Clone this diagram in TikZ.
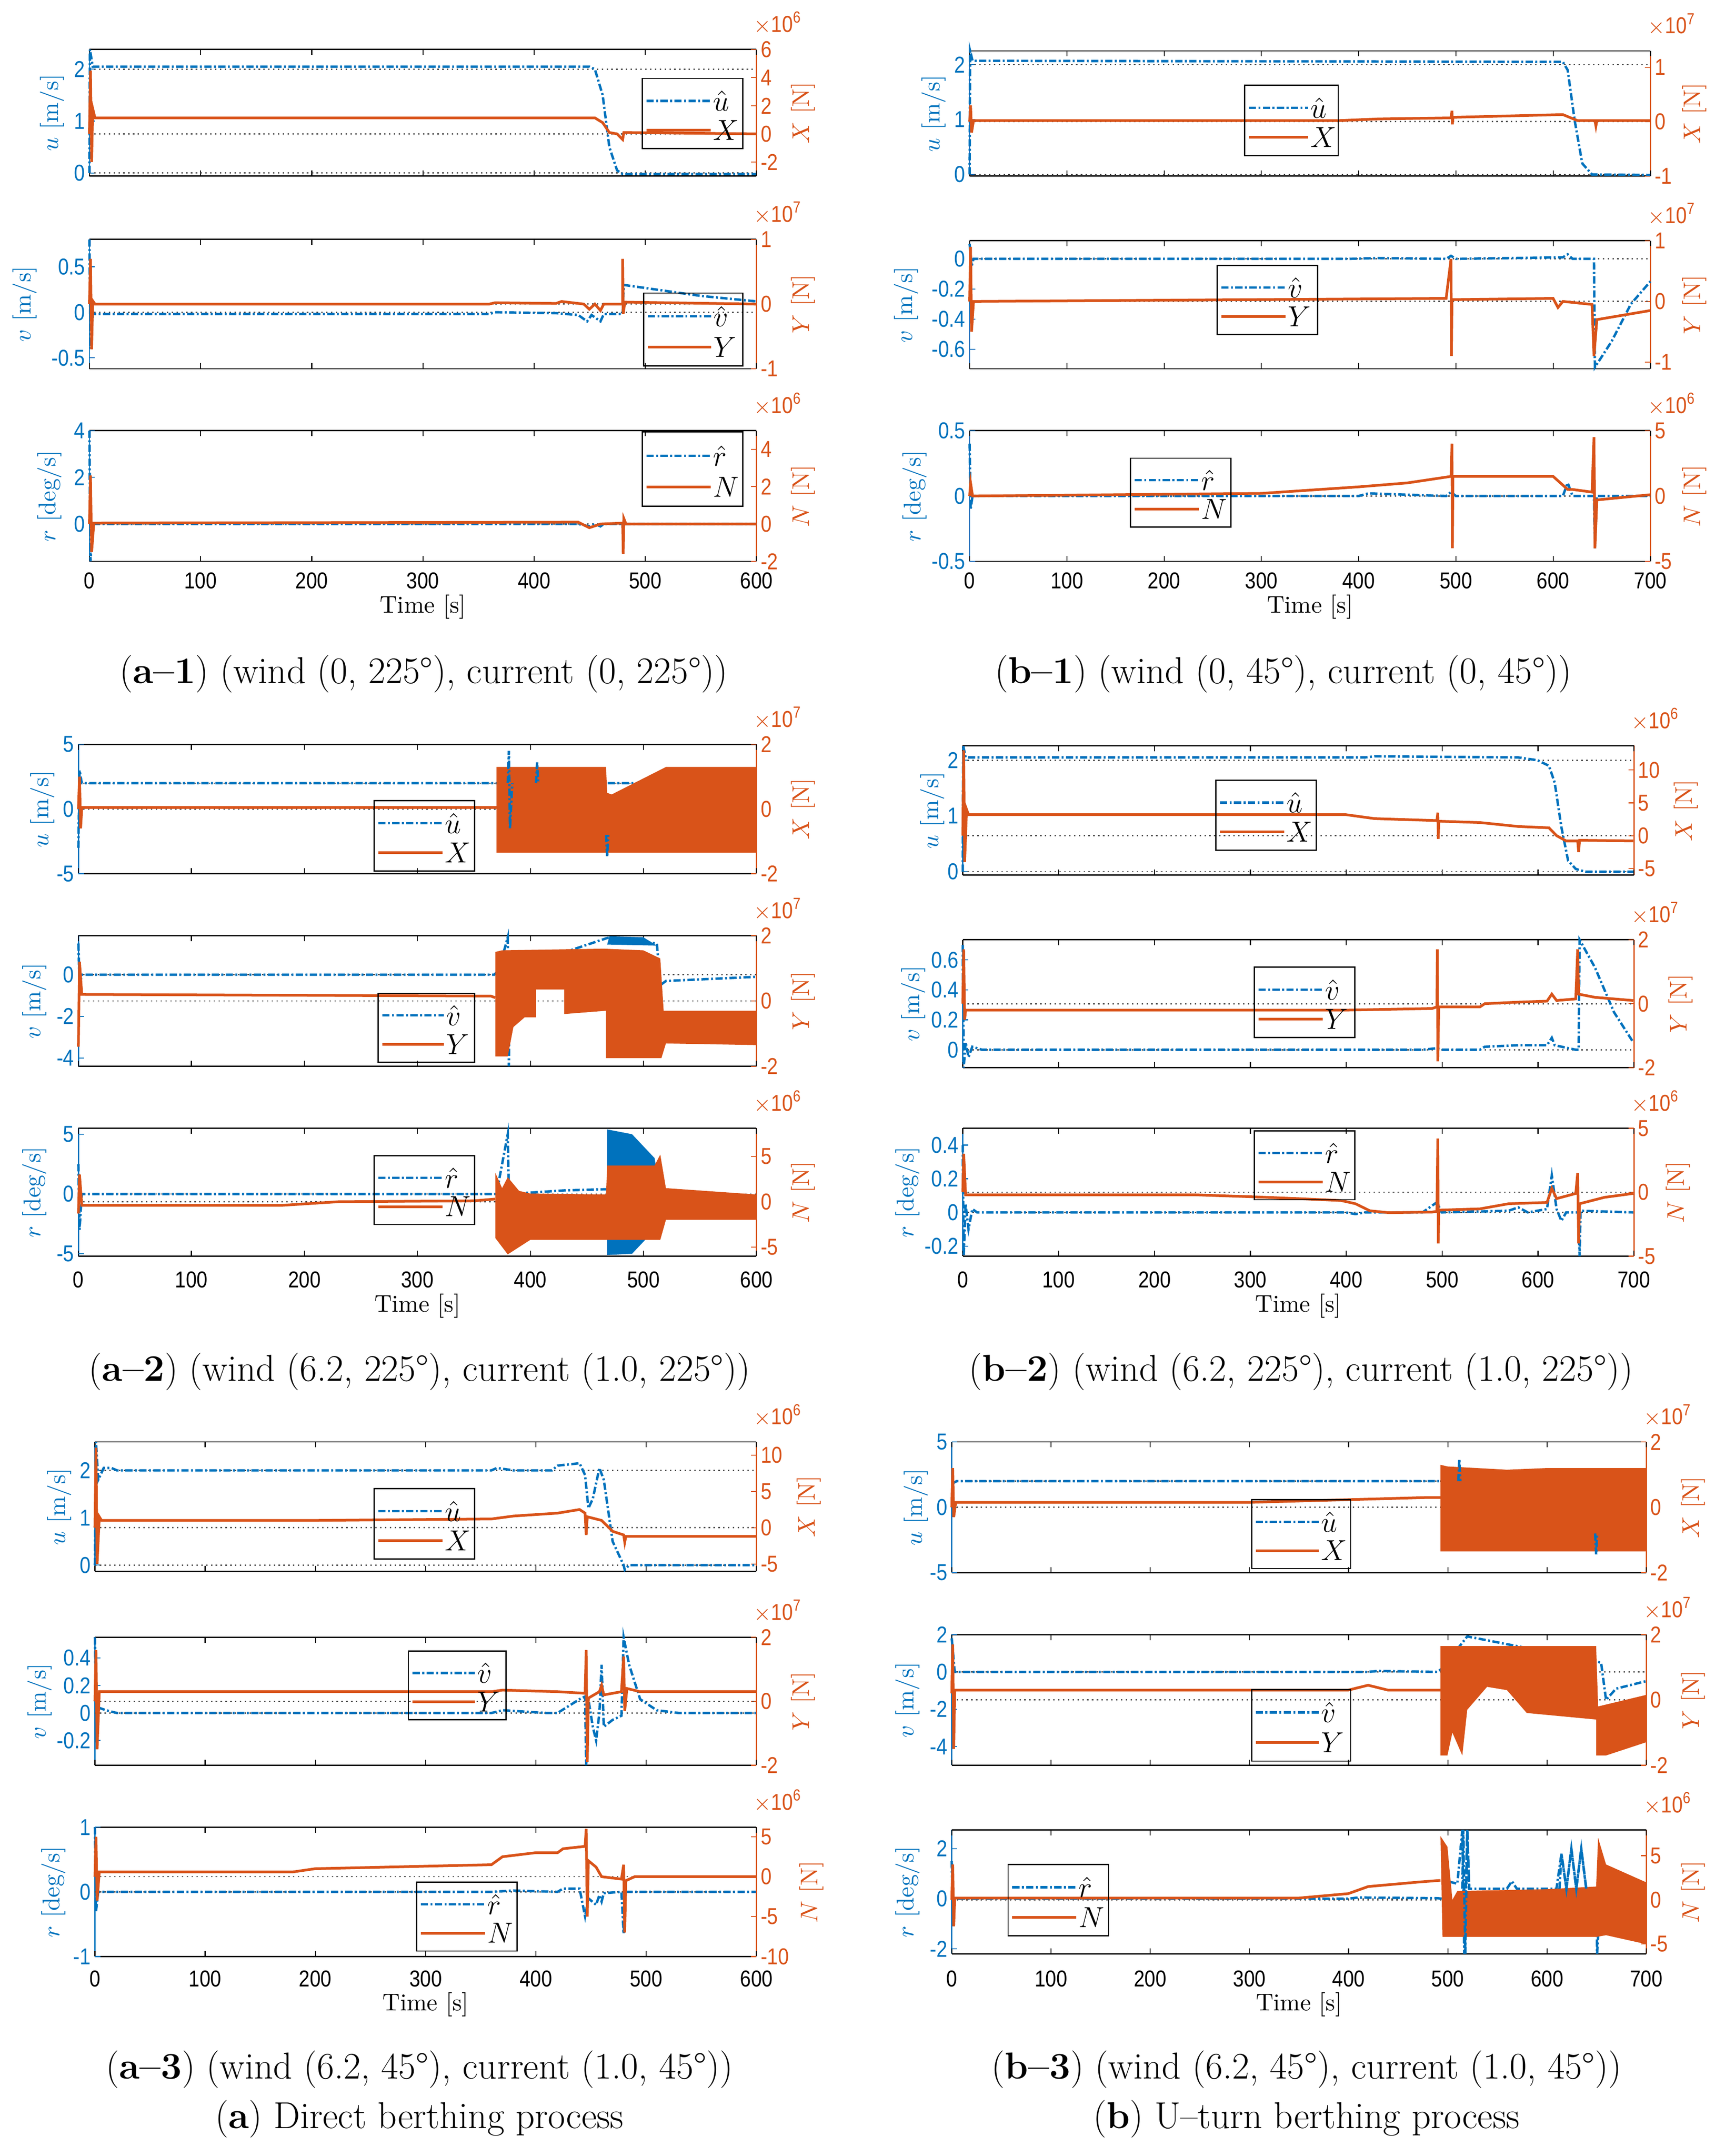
\documentclass[tikz,border=0pt]{standalone}
\usepackage{fontspec}
\newfontfamily\tickfont[FakeStretch=0.85]{Liberation Sans}
\definecolor{cB}{HTML}{0072BD}
\definecolor{cO}{HTML}{D95319}
\tikzset{
 bl/.style={cB,line width=1pt,dash pattern=on 3pt off 1pt on 0.8pt off 1pt},
 orl/.style={cO,line width=1.1pt},
 gref/.style={black!70,line width=0.5pt,dash pattern=on 0.6pt off 1.4pt},
 tick/.style={font=\tickfont\fontsize{9.5}{10}\selectfont,inner sep=1pt},
 lab/.style={font=\fontsize{10}{12}\selectfont,inner sep=0pt},
 captxt/.style={font=\fontsize{15.5}{18}\selectfont,inner sep=0pt},
 L/.style={shift={(\pX,\pYb)},x=\tS cm,y=\lS cm,yshift=\lO cm},
 R/.style={shift={(\pX,\pYb)},x=\tS cm,y=\rS cm,yshift=\rO cm}
}
\newcommand\panel[9]{%
 \pgfmathsetmacro\pX{#1}\pgfmathsetmacro\pY{#2}\pgfmathsetmacro\pXb{#3}\pgfmathsetmacro\pYb{#4}%
 \pgfmathsetmacro\tS{0.02*(#3-#1)/#5}%
 \pgfmathsetmacro\lS{0.02*(#4-#2)/((#7)-(#6))}%
 \pgfmathsetmacro\lO{-(#6)*\lS}%
 \pgfmathsetmacro\rS{0.02*(#4-#2)/((#9)-(#8))}%
 \pgfmathsetmacro\rO{-(#8)*\rS}%
 \def\tmax{#5}\def\lmin{#6}\def\lmax{#7}\def\rmin{#8}\def\rmax{#9}%
 \draw[black,line width=0.5pt] (\pX,\pY) -- (\pXb,\pY) (\pX,\pYb) -- (\pXb,\pYb);
 \draw[cB,line width=0.5pt] (\pX,\pY) -- (\pX,\pYb);
 \draw[cO,line width=0.5pt] (\pXb,\pY) -- (\pXb,\pYb);
 \foreach \tk in {0,100,...,\tmax}{\pgfmathsetmacro\xx{\pX+\tk/\tmax*(\pXb-\pX)}
   \draw[black,line width=0.4pt] (\xx,\pY) -- ++(0,4) (\xx,\pYb) -- ++(0,-4);}
}
\newcommand\lt[1]{\foreach \vv in {#1}{\pgfmathsetmacro\yy{\pYb-((\vv)-(\lmin))/((\lmax)-(\lmin))*(\pYb-\pY)}
 \draw[cB,line width=0.4pt] (\pX,\yy) -- ++(4,0); \node[tick,cB,anchor=east] at (\pX-1,\yy) {\vv};}}
\newcommand\rt[1]{\foreach \vv in {#1}{\pgfmathsetmacro\yy{\pYb-((\vv)-(\rmin))/((\rmax)-(\rmin))*(\pYb-\pY)}
 \draw[cO,line width=0.4pt] (\pXb,\yy) -- ++(-4,0); \node[tick,cO,anchor=west] at (\pXb+1,\yy) {\vv};}}
\newcommand\labs[5]{%
 \node[lab,cB,rotate=90] at ({\pX-#4},{(\pY+\pYb)/2}) {#1};
 \node[lab,cO,rotate=90] at ({\pXb+#5},{(\pY+\pYb)/2}) {#2};
 \node[tick,cO,anchor=south west] at ({\pXb-4},{\pY-9}) {$\times$10\textsuperscript{#3}};}
\newcommand\gl[1]{\draw[gref,L] (0,#1) -- (\tmax,#1);}
\newcommand\gr[1]{\draw[gref,R] (0,#1) -- (\tmax,#1);}
\newcommand\xlab[1]{\foreach \tk in {0,100,...,\tmax}{\pgfmathsetmacro\xx{\pX+\tk/\tmax*(\pXb-\pX)}
 \node[tick,black] at (\xx,#1) {\tk};}
 \node[lab] at ({(\pX+\pXb)/2},{#1+19}) {Time [s]};}
\newcommand\leg[6]{%
 \draw[black,line width=0.5pt] (#1,#2) rectangle (#3,#4);
 \pgfmathsetmacro\la{#2+(#4-#2)*0.32}\pgfmathsetmacro\lb{#2+(#4-#2)*0.74}%
 \draw[bl] ({#1+3},\la) -- ({#1+(#3-#1)*0.68},\la);
 \draw[orl] ({#1+3},\lb) -- ({#1+(#3-#1)*0.68},\lb);
 \node[lab,anchor=west,font=\fontsize{12}{12}\selectfont] at ({#1+(#3-#1)*0.7},\la) {$\hat{#5}$};
 \node[lab,anchor=west,font=\fontsize{12}{12}\selectfont] at ({#1+(#3-#1)*0.7},\lb) {$#6$};}
\begin{document}
\begin{tikzpicture}[x=0.02cm,y=-0.02cm]
\useasboundingbox (0,0) rectangle (1254,1567);
% ================= a-1 =================
\panel{65}{36}{550}{128}{600}{-0.06}{2.38}{-3}{6}
\lt{0,1,2}\rt{-2,0,2,4,6}\labs{$u$ [m/s]}{$X$ [N]}{6}{27}{34}
\gl{2}\gl{0}\gr{0}
\draw[bl,L] (0,0) -- (0.5,2.38) -- (3,2.05) -- (450,2.05) -- (455,2.0) -- (462,1.5) -- (468,0.5) -- (475,0.05) -- (480,-0.02) -- (600,-0.02);
\draw[orl,R] (0,0) -- (1,4.5) -- (2,-2) -- (3,1.8) -- (5,1.14) -- (455,1.14) -- (462,0.8) -- (468,0.1) -- (475,0) -- (480,-0.4) -- (481,0.1) -- (600,0);
\leg{467}{57}{540}{108}{u}{X}
\panel{65}{174}{550}{268}{600}{-0.62}{0.8}{-1}{1}
\lt{-0.5,0,0.5}\rt{-1,0,1}\labs{$v$ [m/s]}{$Y$ [N]}{7}{47}{34}
\gl{0}\gr{0}
\draw[bl,L] (0,0.8) -- (1,-0.4) -- (3,-0.02) -- (360,-0.02) -- (365,0) -- (420,-0.01) -- (440,-0.03) -- (448,-0.1) -- (452,-0.03) -- (460,-0.1) -- (463,-0.02) -- (480,-0.02) -- (481,0.3) -- (550,0.18) -- (600,0.12);
\draw[orl,R] (0,0) -- (1,0.7) -- (2,-0.7) -- (3,0.05) -- (5,0) -- (360,0) -- (365,0.02) -- (420,0.01) -- (425,0.04) -- (445,0) -- (450,-0.08) -- (455,0) -- (460,-0.1) -- (463,0) -- (480,0) -- (480,0.7) -- (480.5,-0.15) -- (482,0.03) -- (600,0);
\leg{468}{213}{540}{266}{v}{Y}
\panel{65}{313}{550}{408}{600}{-1.6}{4}{-2}{5}
\lt{0,2,4}\rt{-2,0,2,4}\labs{$r$ [deg/s]}{$N$ [N]}{6}{29}{34}
\gl{0}
\draw[bl,L] (0,4) -- (1,-1.6) -- (3,0) -- (440,0) -- (450,-0.1) -- (455,0) -- (460,-0.1) -- (463,0) -- (600,0);
\draw[orl,R] (0,0) -- (1,2.6) -- (2,-1.5) -- (4,0.05) -- (440,0.1) -- (450,-0.2) -- (460,0) -- (480,0.05) -- (480.5,-1.6) -- (481,0.3) -- (483,0) -- (600,0);
\leg{467}{314}{540}{368}{r}{N}
\xlab{422}
\node[captxt] at (308,490) {(\textbf{a--1}) (wind (0, 225°), current (0, 225°))};
% ================= b-1 =================
\panel{705}{37}{1200}{128}{700}{-0.03}{2.25}{-1}{1.3}
\lt{0,1,2}\rt{-1,0,1}\labs{$u$ [m/s]}{$X$ [N]}{7}{26}{32}
\gl{2}\gl{0}\gr{0}
\draw[bl,L] (0,0) -- (0.5,2.25) -- (3,2.07) -- (610,2.05) -- (615,1.9) -- (622,1.0) -- (630,0.2) -- (640,0) -- (700,-0.01);
\draw[orl,R] (0,0) -- (1,0.3) -- (2,-0.2) -- (4,0.02) -- (380,0.02) -- (420,0.05) -- (495,0.07) -- (496,0.2) -- (496.5,-0.05) -- (497,0.08) -- (610,0.13) -- (625,0.02) -- (643,0.02) -- (644,-0.08) -- (645,0.02) -- (700,0.02);
\leg{905}{62}{973}{113}{u}{X}
\panel{705}{175}{1200}{268}{700}{-0.73}{0.12}{-1.11}{1}
\lt{-0.6,-0.4,-0.2,0}\rt{-1,0,1}\labs{$v$ [m/s]}{$Y$ [N]}{7}{46}{32}
\gl{0}\gr{0}
\draw[bl,L] (0,0.1) -- (2,-0.05) -- (4,0) -- (390,0) -- (420,0.005) -- (490,0) -- (495,0.02) -- (500,0) -- (610,0.01) -- (615,0.03) -- (620,0) -- (642,0) -- (643,-0.72) -- (660,-0.55) -- (680,-0.3) -- (700,-0.15);
\draw[orl,R] (0,0) -- (1,0.9) -- (2,-0.5) -- (4,0) -- (490,0.05) -- (495,0.7) -- (495.5,-0.9) -- (496,0.03) -- (600,0.05) -- (605,-0.1) -- (610,0) -- (640,-0.05) -- (642,-0.9) -- (645,-0.3) -- (700,-0.15);
\leg{885}{193}{958}{243}{v}{Y}
\panel{705}{313}{1200}{408}{700}{-0.5}{0.5}{-5}{5}
\lt{-0.5,0,0.5}\rt{-5,0,5}\labs{$r$ [deg/s]}{$N$ [N]}{6}{40}{32}
\gl{0}
\draw[bl,L] (0,0.4) -- (1,-0.1) -- (3,0) -- (400,0) -- (410,0.02) -- (490,0) -- (495,0.03) -- (500,0) -- (610,0) -- (615,0.1) -- (620,0) -- (642,0) -- (643,-0.4) -- (645,0) -- (700,0);
\draw[orl,R] (0,0) -- (1,1) -- (3,0) -- (300,0.2) -- (400,0.7) -- (450,1) -- (495,1.5) -- (496,4) -- (496.5,-4) -- (497,1.5) -- (600,1.5) -- (615,0.5) -- (620,0.5) -- (640,0.3) -- (642,4.5) -- (643,-4) -- (645,-0.3) -- (700,0.1);
\leg{822}{333}{895}{383}{r}{N}
\xlab{422}
\node[captxt] at (933,490) {(\textbf{b--1}) (wind (0, 45°), current (0, 45°))};
% ================= a-2 =================
\panel{57}{541}{550}{635}{600}{-5}{5}{-2}{2}
\lt{-5,0,5}\rt{-2,0,2}\labs{$u$ [m/s]}{$X$ [N]}{7}{26}{34}
\gl{2}\gl{0}
\draw[bl,L] (0,-3) -- (1,3) -- (3,2) -- (370,2) -- (600,2);
\draw[orl,R] (0,0) -- (1,1) -- (2,-0.6) -- (3,0.05) -- (370,0.05);
\fill[cO,R] (370,-1.35) -- (370,1.3) -- (467,1.3) -- (468,0.5) -- (472,0.45) -- (520,1.3) -- (600,1.3) -- (600,-1.35) -- cycle;
\draw[bl,L] (380,2) -- (381,4.5) -- (382,-1.5) -- (384,2);
\draw[bl,L] (405,2) -- (406,3.6) -- (407,2);
\draw[bl,L] (467,-2) -- (468,-3.7) -- (469,-2);
\leg{272}{582}{345}{633}{u}{X}
\panel{57}{680}{550}{775}{600}{-4.4}{1.88}{-2}{2}
\lt{-4,-2,0}\rt{-2,0,2}\labs{$v$ [m/s]}{$Y$ [N]}{7}{32}{34}
\gl{0}\gr{0}
\draw[bl,L] (0,1.5) -- (1,-0.5) -- (3,0) -- (368,0) -- (372,0.2) -- (380,1.8) -- (381,-4.4) -- (382,0.2) -- (470,1.8) -- (512,1.5) -- (515,-0.5) -- (520,-0.3) -- (600,-0.1);
\draw[orl,R] (0,-1.4) -- (1,1.2) -- (3,0.2) -- (365,0.15) -- (369,0.1);
\fill[cO,R] (369,-1.7) -- (369,1.5) -- (375,1.55) -- (465,1.6) -- (500,1.55) -- (515,1.3) -- (518,-0.3) -- (600,-0.3) -- (600,-1.35) -- (520,-1.3) -- (516,-1.75) -- (467,-1.75) -- (467,-0.3) -- (430,-0.4) -- (430,0.35) -- (405,0.35) -- (405,-0.5) -- (395,-0.5) -- (385,-0.8) -- (380,-1.7) -- cycle;
\fill[cB,L] (468,1.45) -- (470,1.85) -- (500,1.8) -- (512,1.4) -- cycle;
\leg{275}{722}{345}{772}{v}{Y}
\panel{57}{820}{550}{913}{600}{-5.2}{5.5}{-6}{8.1}
\lt{-5,0,5}\rt{-5,0,5}\labs{$r$ [deg/s]}{$N$ [N]}{6}{32}{34}
\gl{0}\gr{0}
\fill[cB,L] (468,-5.1) -- (468,5.4) -- (490,5) -- (510,3) -- (515,0) -- (510,-3) -- (490,-5) -- cycle;
\draw[bl,L] (0,2.5) -- (1,-3) -- (3,0) -- (370,0) -- (380,5) -- (381,0) -- (430,0.3) -- (468,0.4);
\draw[orl,R] (0,-1.3) -- (1,3) -- (3,-0.4) -- (180,-0.4) -- (230,0) -- (350,0.1) -- (369,0.3);
\fill[cO,R] (369,3.2) -- (375,1.5) -- (380,2.7) -- (390,1.2) -- (400,0.9) -- (467,0.8) -- (468,4) -- (510,4) -- (515,5.2) -- (520,1.5) -- (600,0.8) -- (600,-2) -- (520,-2) -- (515,-4.2) -- (400,-4.2) -- (380,-5.8) -- (369,-4) -- cycle;
\leg{272}{840}{345}{890}{r}{N}
\xlab{930}
\node[captxt] at (305,997) {(\textbf{a--2}) (wind (6.2, 225°), current (1.0, 225°))};
% ================= b-2 =================
\panel{700}{542}{1188}{636}{700}{-0.06}{2.26}{-6}{13.7}
\lt{0,1,2}\rt{-5,0,5,10}\labs{$u$ [m/s]}{$X$ [N]}{6}{22}{38}
\gl{2}\gl{0}\gr{0}
\draw[bl,L] (0,0) -- (0.5,2.26) -- (3,2.05) -- (420,2.05) -- (430,2.07) -- (580,2.05) -- (600,2.0) -- (612,1.9) -- (618,1.6) -- (625,0.8) -- (632,0.2) -- (640,0.05) -- (650,0) -- (700,0);
\draw[orl,R] (0,0) -- (1,13) -- (2,-4) -- (4,4) -- (6,3.2) -- (400,3.2) -- (430,2.6) -- (495,2.3) -- (496,3.5) -- (496.5,-0.5) -- (497,2.2) -- (540,2) -- (580,1.4) -- (612,1.2) -- (620,0) -- (630,-0.8) -- (642,-0.8) -- (643,-2.5) -- (644,-0.7) -- (700,-0.8);
\leg{884}{567}{957}{618}{u}{X}
\panel{700}{683}{1188}{776}{700}{-0.12}{0.735}{-2}{2}
\lt{0,0.2,0.4,0.6}\rt{-2,0,2}\labs{$v$ [m/s]}{$Y$ [N]}{7}{36}{34}
\gl{0}\gr{0}
\draw[bl,L] (0,0.7) -- (1,-0.12) -- (3,0.05) -- (6,-0.05) -- (10,0.02) -- (20,0) -- (480,0) -- (495,0.01) -- (500,0) -- (540,0) -- (545,0.02) -- (580,0.03) -- (610,0.03) -- (615,0.08) -- (618,0.03) -- (640,0) -- (643,0) -- (644,0.735) -- (660,0.55) -- (680,0.25) -- (700,0.05);
\draw[orl,R] (0,0) -- (1,1.7) -- (2,-0.5) -- (3,-0.2) -- (400,-0.2) -- (490,-0.15) -- (495,-0.1) -- (495.5,1.7) -- (496,-1.8) -- (497,-0.1) -- (540,-0.1) -- (545,0) -- (580,0.05) -- (610,0.08) -- (615,0.3) -- (620,0.1) -- (640,0.15) -- (642,1.7) -- (643,0.3) -- (660,0.2) -- (700,0.1);
\leg{912}{703}{985}{754}{v}{Y}
\panel{700}{820}{1188}{913}{700}{-0.26}{0.5}{-5}{5}
\lt{-0.2,0,0.2,0.4}\rt{-5,0,5}\labs{$r$ [deg/s]}{$N$ [N]}{6}{40}{32}
\gl{0}\gr{0}
\draw[bl,L] (0,0.4) -- (1,-0.26) -- (3,0.05) -- (6,-0.1) -- (10,0.02) -- (15,0) -- (400,0) -- (410,-0.01) -- (420,0) -- (480,0) -- (495,0.06) -- (500,0) -- (570,0.01) -- (580,0.03) -- (590,0) -- (610,0.02) -- (615,0.22) -- (620,0.02) -- (625,-0.05) -- (630,0) -- (643,0) -- (644,-0.26) -- (645,0.01) -- (700,0);
\draw[orl,R] (0,0) -- (1,3) -- (3,-0.2) -- (240,-0.2) -- (300,-0.35) -- (350,-0.5) -- (395,-0.65) -- (410,-0.9) -- (425,-1.45) -- (445,-1.6) -- (490,-1.55) -- (495,-1.5) -- (496,4.2) -- (496.5,-4) -- (497,-1.4) -- (540,-1.3) -- (570,-0.9) -- (610,-0.8) -- (615,0.3) -- (620,-0.5) -- (640,-0.1) -- (642,1.5) -- (643,-4) -- (644,-0.9) -- (670,-0.4) -- (700,-0.1);
\leg{912}{822}{985}{872}{r}{N}
\xlab{930}
\node[captxt] at (946,997) {(\textbf{b--2}) (wind (6.2, 225°), current (1.0, 225°))};
% ================= a-3 =================
\panel{69}{1048}{550}{1142}{600}{-0.13}{2.6}{-6}{11.8}
\lt{0,1,2}\rt{-5,0,5,10}\labs{$u$ [m/s]}{$X$ [N]}{6}{26}{38}
\gl{2}\gl{0}\gr{0}
\draw[bl,L] (0,0) -- (1,2.6) -- (3,1.8) -- (8,2.05) -- (15,2.05) -- (20,2.0) -- (360,2.0) -- (365,2.05) -- (380,2.0) -- (415,2.0) -- (420,2.1) -- (440,2.15) -- (445,1.9) -- (448,1.2) -- (452,1.4) -- (458,2.05) -- (462,1.8) -- (470,0.5) -- (480,0) -- (481,-0.1) -- (485,0) -- (600,0);
\draw[orl,R] (0,0) -- (1,11) -- (2,-5) -- (4,1.5) -- (6,1.0) -- (200,1.0) -- (360,1.2) -- (380,1.6) -- (420,2.0) -- (440,2.5) -- (445,2.0) -- (446,-1) -- (447,1.5) -- (460,1.0) -- (470,-0.5) -- (480,-1.0) -- (481,-2) -- (482,-1.2) -- (600,-1.2);
\leg{272}{1082}{345}{1133}{u}{X}
\panel{69}{1190}{550}{1283}{600}{-0.38}{0.55}{-2}{2}
\lt{-0.2,0,0.2,0.4}\rt{-2,0,2}\labs{$v$ [m/s]}{$Y$ [N]}{7}{40}{34}
\gl{0}\gr{0}
\draw[bl,L] (0,0.55) -- (1,0.1) -- (3,0.04) -- (10,0.02) -- (20,0) -- (360,0) -- (370,0.02) -- (410,0) -- (420,0) -- (440,0.1) -- (445,0.12) -- (446,-0.38) -- (448,0.1) -- (452,-0.1) -- (455,-0.2) -- (458,0) -- (460,0.35) -- (462,-0.1) -- (470,-0.05) -- (478,-0.02) -- (480,0.55) -- (485,0.35) -- (495,0.1) -- (510,0.02) -- (530,0) -- (600,0);
\draw[orl,R] (0,0) -- (1,1.6) -- (2,-1.5) -- (4,0.3) -- (360,0.3) -- (370,0.35) -- (420,0.3) -- (445,0.25) -- (446,1.6) -- (447,-1.9) -- (448,0.1) -- (458,0.3) -- (460,0.5) -- (462,0.2) -- (478,0.3) -- (480,1.4) -- (481,-0.3) -- (483,0.4) -- (495,0.3) -- (600,0.3);
\leg{297}{1200}{368}{1250}{v}{Y}
\panel{69}{1328}{550}{1422}{600}{-1}{1}{-10}{6.2}
\lt{-1,0,1}\rt{-10,-5,0,5}\labs{$r$ [deg/s]}{$N$ [N]}{6}{30}{40}
\gl{0}\gr{0}
\draw[bl,L] (0,1) -- (1,-0.3) -- (3,0) -- (360,0) -- (380,0.02) -- (420,0) -- (425,0.05) -- (440,0.05) -- (445,-0.38) -- (448,-0.1) -- (455,-0.2) -- (458,-0.05) -- (460,-0.15) -- (462,-0.02) -- (478,0) -- (480,-0.65) -- (481,0) -- (600,0);
\draw[orl,R] (0,0) -- (1,5) -- (2,-3) -- (4,0.6) -- (180,0.6) -- (200,1.0) -- (360,1.5) -- (370,2.5) -- (400,3) -- (420,3) -- (425,3.5) -- (445,3.8) -- (446,6) -- (447,-5) -- (448,2) -- (455,1.2) -- (460,0) -- (478,-0.3) -- (480,1.5) -- (481,-7) -- (482,-0.5) -- (490,0) -- (600,0);
\leg{303}{1368}{376}{1418}{r}{N}
\xlab{1438}
\node[captxt] at (305,1504) {(\textbf{a--3}) (wind (6.2, 45°), current (1.0, 45°))};
\node[captxt] at (305,1540) {(\textbf{a}) Direct berthing process};
% ================= b-3 =================
\panel{692}{1048}{1197}{1143}{700}{-5}{5}{-2}{2}
\lt{-5,0,5}\rt{-2,0,2}\labs{$u$ [m/s]}{$X$ [N]}{7}{26}{34}
\gl{2}\gr{0}
\draw[bl,L] (0,1.8) -- (5,2.0) -- (490,2.0) -- (700,2.0);
\draw[orl,R] (0,0) -- (1,1.2) -- (2,-0.3) -- (4,0.15) -- (300,0.15) -- (480,0.3) -- (493,0.3);
\fill[cO,R] (493,-1.35) -- (493,1.3) -- (500,1.25) -- (560,1.15) -- (600,1.2) -- (700,1.2) -- (700,-1.35) -- cycle;
\draw[bl,L] (511,2) -- (512,3.7) -- (513,2);
\draw[bl,L] (649,-2) -- (650,-3.6) -- (651,-2);
\leg{910}{1090}{982}{1140}{u}{X}
\panel{692}{1188}{1197}{1283}{700}{-5}{2}{-2}{2}
\lt{-4,-2,0,2}\rt{-2,0,2}\labs{$v$ [m/s]}{$Y$ [N]}{7}{32}{34}
\gl{0}\gr{0}
\draw[bl,L] (0,1.8) -- (3,0) -- (420,0) -- (430,0.05) -- (490,0) -- (495,0.2) -- (520,1.9) -- (655,0.5) -- (660,-1.5) -- (670,-0.9) -- (700,-0.5);
\draw[orl,R] (0,0.2) -- (1,1.7) -- (2,-1.5) -- (3,0.3) -- (400,0.3) -- (420,0.45) -- (440,0.3) -- (493,0.3);
\fill[cO,R] (493,-1.7) -- (493,1.65) -- (650,1.65) -- (652,-0.2) -- (700,0.15) -- (700,-1.3) -- (660,-1.7) -- (650,-1.7) -- (650,-0.6) -- (580,-0.4) -- (560,0.3) -- (540,0.4) -- (520,-0.3) -- (515,-1.7) -- (505,-1.0) -- (500,-1.7) -- cycle;
\leg{910}{1228}{982}{1280}{v}{Y}
\panel{692}{1330}{1197}{1420}{700}{-2.2}{2.75}{-6.1}{7.9}
\lt{-2,0,2}\rt{-5,0,5}\labs{$r$ [deg/s]}{$N$ [N]}{6}{32}{34}
\gl{0}\gr{0}
\draw[bl,L] (0,1.5) -- (1,-0.3) -- (3,0) -- (400,0) -- (410,0.05) -- (490,0.02) -- (495,0) -- (500,0.7) -- (510,0.6) -- (515,2.75) -- (517,-2.2) -- (520,2.75) -- (522,0.4) -- (560,0.4) -- (565,0.7) -- (570,0.4) -- (610,0.4) -- (615,1.8) -- (620,0.4) -- (625,2) -- (630,0.4) -- (635,2) -- (640,0.4) -- (650,0.4) -- (651,-2.2) -- (655,0.5) -- (700,0.3);
\draw[orl,R] (0,0) -- (1,4) -- (2,-3) -- (3,0.2) -- (350,0.2) -- (400,0.7) -- (420,1.5) -- (470,2.0) -- (493,2.2);
\fill[cO,R] (493,7.2) -- (500,6) -- (505,0) -- (510,1) -- (600,1.2) -- (650,1.5) -- (652,7.0) -- (660,4) -- (700,2) -- (700,-5) -- (660,-4) -- (650,-4.2) -- (495,-4.2) -- cycle;
\draw[bl,L] (515,0.4) -- (516,2.75) -- (518,-2.2) -- (520,2.75) -- (522,0.4);
\draw[bl,L] (613,0.4) -- (615,1.8) -- (620,0.4) -- (625,2) -- (630,0.4) -- (635,2) -- (640,0.4);
\leg{733}{1355}{806}{1407}{r}{N}
\xlab{1438}
\node[captxt] at (950,1504) {(\textbf{b--3}) (wind (6.2, 45°), current (1.0, 45°))};
\node[captxt] at (950,1540) {(\textbf{b}) U--turn berthing process};
\end{tikzpicture}
\end{document}
